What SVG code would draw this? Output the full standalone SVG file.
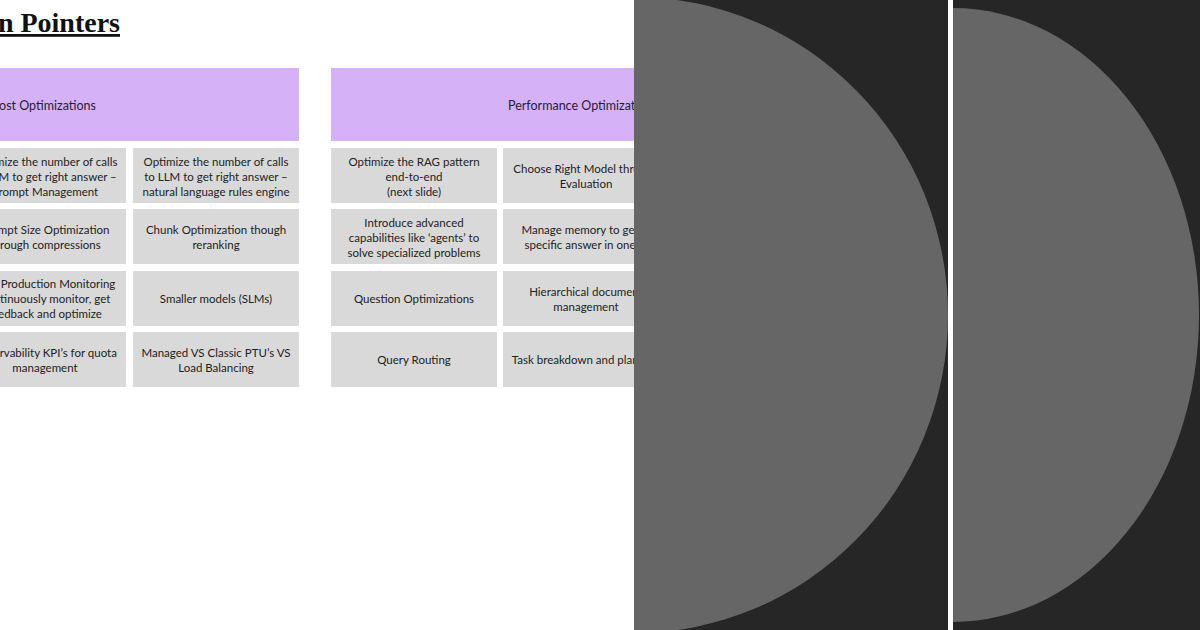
<svg xmlns="http://www.w3.org/2000/svg" width="1200" height="630" viewBox="0 0 1200 630">
<style>
.h{fill:#d5b2f8}.c{fill:#d9d9d9}
.t{font-family:Lato,"Liberation Sans",sans-serif;font-size:11.5px;fill:#222;text-anchor:middle}
.ht{font-family:Lato,"Liberation Sans",sans-serif;font-size:12.5px;fill:#2a1a3a}
</style>
<defs>
<clipPath id="p1"><rect x="634" y="0" width="314" height="630"/></clipPath>
<clipPath id="p2"><rect x="953" y="0" width="247" height="630"/></clipPath>
</defs>
<rect width="1200" height="630" fill="#fff"/>
<text x="120" y="32" text-anchor="end" font-family="Liberation Serif,serif" font-weight="bold" font-size="28" fill="#111" text-decoration="underline">n Pointers</text>
<g id="cost">
<rect class="h" x="-60" y="68" width="359" height="73"/>
<text class="ht" x="96" y="110" text-anchor="end">ost Optimizations</text>
<rect class="c" x="-40" y="148" width="166" height="55"/><text class="t" x="45" y="166">Optimize the number of calls<tspan x="45" dy="15">to LLM to get right answer –</tspan><tspan x="45" dy="15">Prompt Management</tspan></text>
<rect class="c" x="133" y="148" width="166" height="55"/><text class="t" x="216" y="166">Optimize the number of calls<tspan x="216" dy="15">to LLM to get right answer –</tspan><tspan x="216" dy="15">natural language rules engine</tspan></text>
<rect class="c" x="-40" y="209" width="166" height="55"/><text class="t" x="45" y="234">Prompt Size Optimization<tspan x="45" dy="15">through compressions</tspan></text>
<rect class="c" x="133" y="209" width="166" height="55"/><text class="t" x="216" y="234">Chunk Optimization though<tspan x="216" dy="15">reranking</tspan></text>
<rect class="c" x="-40" y="271" width="166" height="55"/><text class="t" x="58" y="288">Production Monitoring<tspan x="45" dy="15">Continuously monitor, get</tspan><tspan x="45" dy="15">feedback and optimize</tspan></text>
<rect class="c" x="133" y="271" width="166" height="55"/><text class="t" x="216" y="303">Smaller models (SLMs)</text>
<rect class="c" x="-40" y="332" width="166" height="55"/><text class="t" x="45" y="357">Observability KPI’s for quota<tspan x="45" dy="15">management</tspan></text>
<rect class="c" x="133" y="332" width="166" height="55"/><text class="t" x="216" y="357">Managed VS Classic PTU’s VS<tspan x="216" dy="15">Load Balancing</tspan></text>
</g>
<g id="perf">
<rect class="h" x="331" y="68" width="340" height="73"/>
<text class="ht" x="508" y="110">Performance Optimizations</text>
<rect class="c" x="331" y="148" width="166" height="55"/><text class="t" x="414" y="166">Optimize the RAG pattern<tspan x="414" dy="15">end-to-end</tspan><tspan x="414" dy="15">(next slide)</tspan></text>
<rect class="c" x="503" y="148" width="166" height="55"/><text class="t" x="586" y="173">Choose Right Model through<tspan x="586" dy="15">Evaluation</tspan></text>
<rect class="c" x="331" y="209" width="166" height="55"/><text class="t" x="414" y="227">Introduce advanced<tspan x="414" dy="15">capabilities like ‘agents’ to</tspan><tspan x="414" dy="15">solve specialized problems</tspan></text>
<rect class="c" x="503" y="209" width="166" height="55"/><text class="t" x="580" y="234">Manage memory to get<tspan x="580" dy="15">specific answer in one</tspan></text>
<rect class="c" x="331" y="271" width="166" height="55"/><text class="t" x="414" y="303">Question Optimizations</text>
<rect class="c" x="503" y="271" width="166" height="55"/><text class="t" x="586" y="296">Hierarchical document<tspan x="586" dy="15">management</tspan></text>
<rect class="c" x="331" y="332" width="166" height="55"/><text class="t" x="414" y="364">Query Routing</text>
<rect class="c" x="503" y="332" width="166" height="55"/><text class="t" x="586" y="364">Task breakdown and planning</text>
</g>
<g id="panel1">
<rect x="634" y="0" width="314" height="630" fill="#262626"/>
<ellipse cx="634" cy="315" rx="314" ry="318" fill="#666" clip-path="url(#p1)"/>
</g>
<g id="panel2">
<rect x="953" y="0" width="247" height="630" fill="#262626"/>
<ellipse cx="953" cy="315" rx="246" ry="307" fill="#666" clip-path="url(#p2)"/>
</g>
<g id="connectors"/>
</svg>
